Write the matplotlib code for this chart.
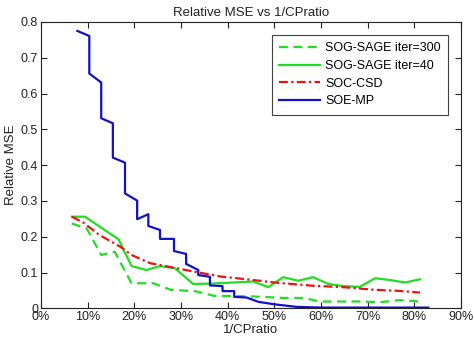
import numpy as np
import matplotlib
matplotlib.use("Agg")
import matplotlib.pyplot as plt
from matplotlib.ticker import FuncFormatter

plt.rcParams['font.family'] = ['Liberation Sans', 'DejaVu Sans']

# compression level (percent) and relative MSE for each method
x_sage300 = [6.6, 9.8, 12.9, 15.8, 19.4, 24.1, 27.7, 33.4, 37.0, 45.5, 51.9, 56.2, 59.8, 68.3, 72.6, 76.9, 81.0]
y_sage300 = [0.237, 0.223, 0.149, 0.158, 0.070, 0.070, 0.052, 0.047, 0.035, 0.033, 0.029, 0.029, 0.019, 0.019, 0.017, 0.023, 0.019]

x_sage40 = [6.6, 9.4, 16.6, 19.4, 22.6, 25.5, 28.7, 32.6, 36.2, 41.2, 45.5, 48.7, 51.9, 55.1,
            58.3, 61.6, 64.8, 68.3, 71.6, 74.8, 78.0, 81.2]
y_sage40 = [0.256, 0.256, 0.193, 0.118, 0.107, 0.118, 0.112, 0.068, 0.069, 0.072, 0.075, 0.059, 0.087, 0.077,
            0.087, 0.068, 0.062, 0.060, 0.084, 0.079, 0.072, 0.081]

x_csd = [6.6, 9.0, 12.5, 17.0, 19.4, 23.4, 29.0, 32.6, 38.4, 45.5, 50.1, 58.3, 64.8, 71.2, 76.3, 81.2]
y_csd = [0.256, 0.240, 0.205, 0.172, 0.149, 0.126, 0.112, 0.103, 0.089, 0.079, 0.072, 0.063, 0.059, 0.052, 0.049, 0.044]

x_mp = [7.8, 10.35, 10.35, 12.9, 12.9, 15.4, 15.4, 18.0, 18.0, 20.6, 20.6, 23.0, 23.0, 25.5, 25.5,
        28.5, 28.5, 31.1, 31.1, 33.7, 33.7, 36.2, 36.2, 38.9, 38.9, 41.4, 41.4, 44.1, 46.6, 50.1,
        54.8, 60.0, 83.0]
y_mp = [0.775, 0.761, 0.656, 0.631, 0.531, 0.517, 0.421, 0.407, 0.321, 0.301, 0.249, 0.263, 0.230, 0.219, 0.194,
        0.194, 0.160, 0.152, 0.124, 0.107, 0.093, 0.088, 0.064, 0.062, 0.048, 0.048, 0.032, 0.030, 0.018, 0.011,
        0.004, 0.002, 0.002]

fig = plt.figure(figsize=(4.74, 3.45), dpi=100)
ax = fig.add_axes([41 / 474, 1 - 308.3 / 345, 420 / 474, 286.3 / 345])

lw = 1.6
ax.plot(x_sage300, y_sage300, color="#22dd22", linewidth=lw, linestyle=(0, (4, 2.5)), label="SOG-SAGE iter=300")
ax.plot(x_sage40, y_sage40, color="#22dd22", linewidth=lw, label="SOG-SAGE iter=40")
ax.plot(x_csd, y_csd, color="#ee1111", linewidth=lw, linestyle=(0, (4, 1.5, 1, 1.5)), label="SOC-CSD")
ax.plot(x_mp, y_mp, color="#1111cc", linewidth=lw, label="SOE-MP")

ax.set_xlim(0, 90)
ax.set_ylim(0, 0.8)
ax.set_xticks(np.arange(0, 91, 10))
ax.set_yticks(np.arange(0, 0.81, 0.1))
ax.xaxis.set_major_formatter(FuncFormatter(lambda v, p: "%d%%" % round(v)))
ax.yaxis.set_major_formatter(FuncFormatter(lambda v, p: "0" if v == 0 else "%.1f" % v))
ax.tick_params(direction="in", top=True, right=True, length=4, labelsize=9, pad=2, colors="#222222")
for s in ax.spines.values():
    s.set_linewidth(0.8)
    s.set_color("#222222")

ax.set_title("Relative MSE vs 1/CPratio", fontsize=9.5, pad=4, color="#222222")
ax.set_xlabel("1/CPratio", fontsize=9.5, labelpad=1, color="#222222")
ax.set_ylabel("Relative MSE", fontsize=9.5, labelpad=3, color="#222222")

leg = ax.legend(loc="upper right", bbox_to_anchor=(0.97, 0.955), fontsize=9, frameon=True, fancybox=False,
                handlelength=3.3, handletextpad=0.4, borderpad=0.6, labelspacing=0.45, borderaxespad=0)
leg.get_frame().set_edgecolor("#111111")
leg.get_frame().set_linewidth(0.8)

fig.savefig("out.png", dpi=100)
